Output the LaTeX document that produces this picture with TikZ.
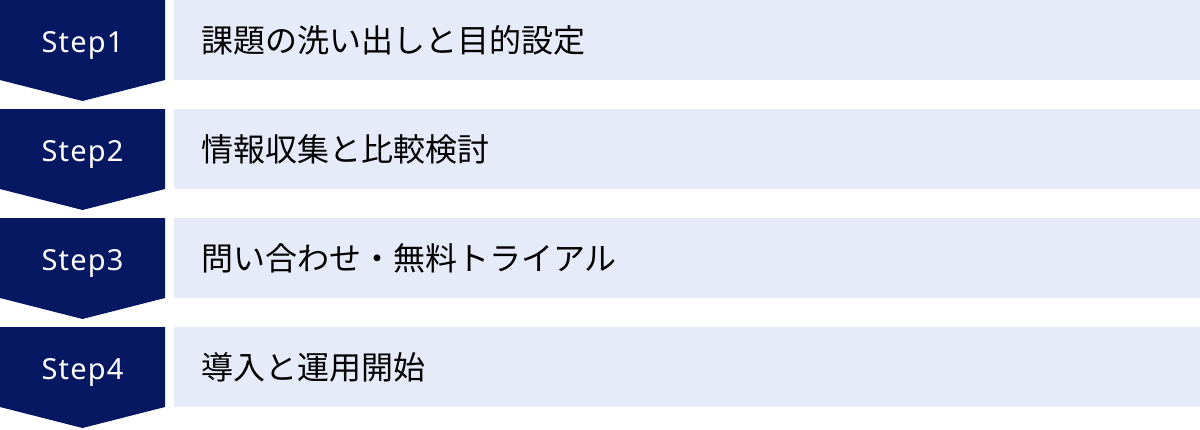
\documentclass[tikz,border=0pt]{standalone}
\usepackage{fontspec}
\setmainfont{Noto Sans CJK JP}
\newfontfamily\stepfont[LetterSpace=4]{Noto Sans}
\definecolor{navy}{HTML}{061862}
\definecolor{pale}{HTML}{E5EBF8}
\tikzset{
  stepshape/.style={fill=navy, draw=none},
  steplabel/.style={text=white, font=\stepfont\fontsize{29}{35}\selectfont, inner sep=0pt, anchor=base},
  boxshape/.style={fill=pale, draw=none, minimum width=1026pt, minimum height=80pt, inner sep=0pt, anchor=north west},
  boxlabel/.style={text=black, font=\fontsize{32}{38}\selectfont, inner sep=0pt, anchor=west},
}
\begin{document}
\begin{tikzpicture}[x=1pt,y=-1pt]
\useasboundingbox (0,0) rectangle (1200,429);
\foreach \i/\t in {1/{課題の洗い出しと目的設定},2/{情報収集と比較検討},3/{問い合わせ・無料トライアル},4/{導入と運用開始}} {
  \pgfmathsetmacro{\top}{(\i-1)*109}
  \fill[stepshape] (0,\top) -- (165,\top) -- (165,\top+80) -- (82.5,\top+101) -- (0,\top+80) -- cycle;
  \node[steplabel] (s\i) at (82.5,\top+52.5) {Step\i};
  \node[boxshape] (b\i) at (174,\top) {};
  \node[boxlabel] (t\i) at (201,\top+40) {\t};
}
\end{tikzpicture}
\end{document}
